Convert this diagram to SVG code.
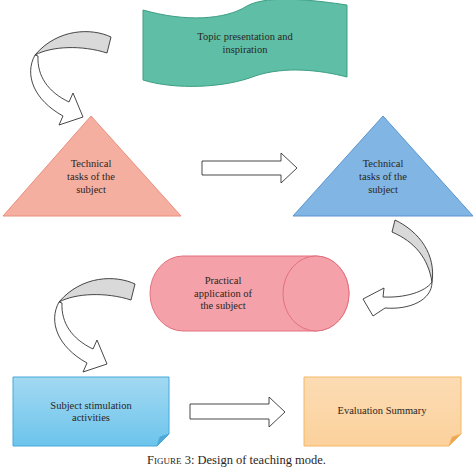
<svg xmlns="http://www.w3.org/2000/svg" width="474" height="468" viewBox="0 0 474 468">
<style>
text{font-family:"Liberation Serif","Times New Roman",serif;font-size:10.5px;fill:#2b2522;text-anchor:middle}
.blk{fill:#fff;stroke:#333;stroke-width:0.9}
.grey{fill:#d9d9d9;stroke:#333;stroke-width:0.9}
</style>
<defs>
<linearGradient id="gBlue" x1="0" y1="0" x2="0" y2="1"><stop offset="0" stop-color="#a3d9f2"/><stop offset="1" stop-color="#6cc4ec"/></linearGradient>
<linearGradient id="gPeach" x1="0" y1="0" x2="0" y2="1"><stop offset="0" stop-color="#fcdcb4"/><stop offset="1" stop-color="#fbd19c"/></linearGradient>
<g id="curvA">
<path class="grey" d="M111,37 C92,28 58,28 35,55 C52,46 82,45 107,53 Z"/>
<path class="blk" d="M35,55 C24,75 34,100 63,116 L59,125 L83,117 L73,93 L69,102 C48,92 37,76 38,56 Z"/>
</g>
</defs>
<g id="topic">
<path d="M143,10 C185,22 225,20 247,6 C268,-6 320,1 347,5 L347,77 C320,70 285,66 255,76 C225,88 175,90 143,80 Z" fill="#5fbfa6" stroke="#3d9e84" stroke-width="1"/>
<text x="245" y="40">Topic presentation and</text>
<text x="245" y="53">inspiration</text>
</g>
<g id="tri-left">
<path d="M91,116 L181,216 L3,216 Z" fill="#f5afa0" stroke="#ea8f7c" stroke-width="1"/>
<text x="91" y="167">Technical</text>
<text x="91" y="180">tasks of the</text>
<text x="91" y="193">subject</text>
</g>
<g id="tri-right">
<path d="M383,116 L473,216 L293,216 Z" fill="#80b5e4" stroke="#5a95cf" stroke-width="1"/>
<text x="383" y="167">Technical</text>
<text x="383" y="180">tasks of the</text>
<text x="383" y="193">subject</text>
</g>
<g id="practical">
<path d="M183,256 L316,256 A33,37.5 0 0 1 316,331 L183,331 A33,37.5 0 0 1 183,256 Z" fill="#f4a1a9" stroke="#e2717f" stroke-width="1"/>
<ellipse cx="316" cy="293.5" rx="33" ry="37.5" fill="#f4a1a9" stroke="#e2717f" stroke-width="1"/>
<text x="223" y="284">Practical</text>
<text x="223" y="297">application of</text>
<text x="223" y="309">the subject</text>
</g>
<g id="stimulation">
<path d="M13,377 L169,377 L169,434 L157,446 L13,446 Z" fill="url(#gBlue)" stroke="#45a9d9" stroke-width="1"/>
<path d="M169,434 L160,437 L157,446 Z" fill="#4fa8d6" stroke="#45a9d9" stroke-width="0.8"/>
<text x="91" y="409">Subject stimulation</text>
<text x="91" y="421">activities</text>
</g>
<g id="evaluation">
<path d="M304,377 L461,377 L461,434 L449,446 L304,446 Z" fill="url(#gPeach)" stroke="#f3b865" stroke-width="1"/>
<path d="M461,434 L452,437 L449,446 Z" fill="#eda652" stroke="#f3b865" stroke-width="0.8"/>
<text x="382" y="414">Evaluation Summary</text>
</g>
<g id="connectors">
<use href="#curvA"/>
<path class="blk" d="M202,161 L281,161 L281,153 L297,168 L281,183 L281,175 L202,175 Z"/>
<path class="grey" d="M395,220 C420,232 436,255 432,282 C428,258 415,242 392,232 Z"/>
<path class="blk" d="M432,282 C432,300 410,310 385,308 L373,316 L363,299 L384,288 L383,297 C405,298 425,292 432,282 Z"/>
<use href="#curvA" transform="translate(24,247)"/>
<path class="blk" d="M190,404 L269,404 L269,397 L285,412 L269,427 L269,419 L190,419 Z"/>
</g>
<text x="236.5" y="464" style="font-size:12.5px"><tspan style="font-variant:small-caps">Figure</tspan> 3: Design of teaching mode.</text>
</svg>
